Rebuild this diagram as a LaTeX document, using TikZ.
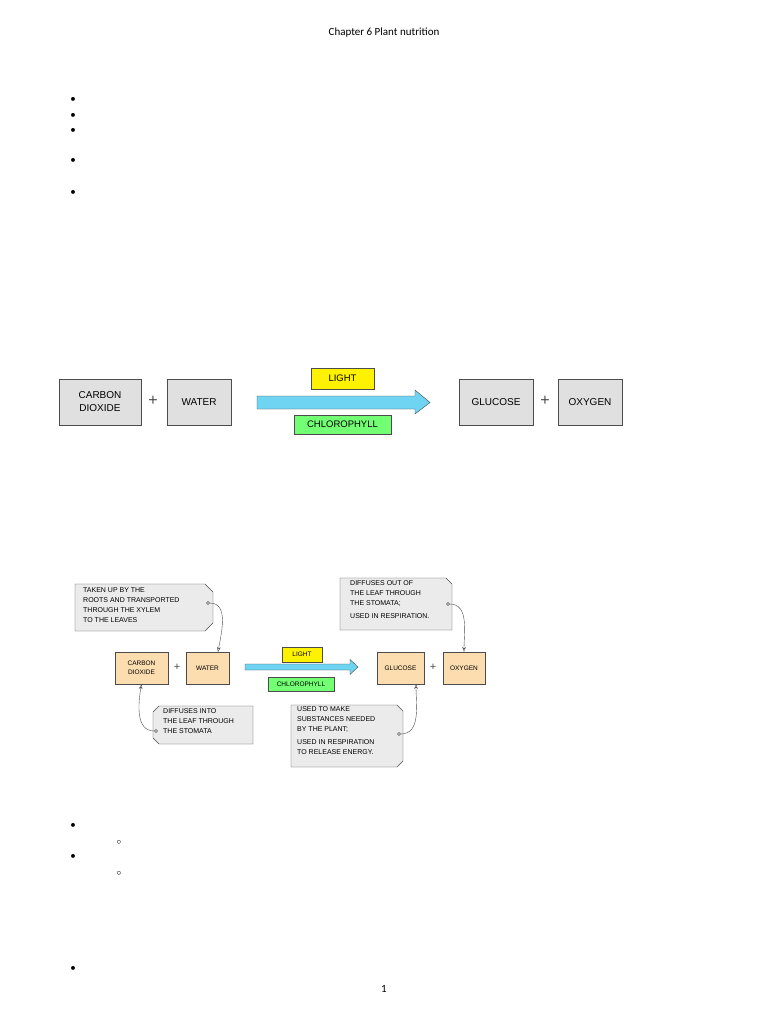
\documentclass[tikz,border=0pt]{standalone}
\usepackage{fontspec}
\setmainfont{Carlito}
\newfontfamily\dfont{Liberation Sans}
\usetikzlibrary{arrows.meta}
\definecolor{orbox}{HTML}{FCDDB0}
\definecolor{arc}{HTML}{6FD3F2}
\begin{document}
\begin{tikzpicture}[x=1pt,y=-1pt,
 gbox/.style={draw=black!70,fill=black!12,inner sep=0pt,font=\dfont\fontsize{10}{13}\selectfont,align=center},
 obox/.style={draw=black!70,fill=orbox,inner sep=0pt,font=\dfont\fontsize{6.5}{8.5}\selectfont,align=center},
 ctext/.style={font=\dfont\fontsize{7}{10}\selectfont,align=left,anchor=north west,inner sep=0pt},
 callout/.style={draw=black!70,fill=black!8},
 plus/.style={font=\dfont\fontsize{16}{16}\selectfont,text=black!70},
 plusb/.style={font=\dfont\fontsize{11}{11}\selectfont,text=black!70},
 bul/.style={font=\fontsize{11}{11}\selectfont},
 lnk/.style={-{Stealth[length=5pt,open]},black!70,thin},
 dotc/.style={circle,draw=black!70,fill=white,inner sep=0pt,minimum size=3pt}]
\useasboundingbox (0,0) rectangle (768,1024);
\fill[white] (0,0) rectangle (768,1024);
\node[font=\fontsize{11}{13}\selectfont] (hd) at (384,33) {Chapter 6 Plant nutrition};
\node[font=\fontsize{11}{13}\selectfont] (pg) at (384,989) {1};
\foreach \y [count=\i] in {100,116,131,161,193,826,857,969}
  \node[bul] (b\i) at (73,\y) {\textbullet};
\foreach \y [count=\i] in {842,873}
  \node[font=\fontsize{9}{9}\selectfont] (c\i) at (119,\y) {$\circ$};
% diagram 1
\node[gbox,minimum width=82pt,minimum height=46pt] (co) at (100,402) {CARBON\\DIOXIDE};
\node[plus] (p1) at (153,401) {+};
\node[gbox,minimum width=64pt,minimum height=46pt] (wa) at (199,402) {WATER};
\draw[draw=black!70,fill=arc] (257,396) -- (415,396) -- (415,390) -- (430,402.5) -- (415,414) -- (415,409) -- (257,409) -- cycle;
\node[draw=black!70,fill=yellow,minimum width=63pt,minimum height=21pt,inner sep=0pt,font=\dfont\fontsize{9.5}{12}\selectfont] (li) at (342.5,378.5) {LIGHT};
\node[draw=black!70,fill=green!55,minimum width=97pt,minimum height=19pt,inner sep=0pt,font=\dfont\fontsize{9.5}{12}\selectfont] (ch) at (342.5,424.5) {CHLOROPHYLL};
\node[gbox,minimum width=74pt,minimum height=46pt] (gl) at (496,402) {GLUCOSE};
\node[plus] (p2) at (545,401) {+};
\node[gbox,minimum width=64pt,minimum height=46pt] (ox) at (590,402) {OXYGEN};
% diagram 2
\node[obox,minimum width=53pt,minimum height=32pt] (co2) at (141.5,668) {CARBON\\DIOXIDE};
\node[plusb] (q1) at (177,667) {+};
\node[obox,minimum width=43pt,minimum height=32pt] (wa2) at (207.5,668) {WATER};
\draw[draw=black!70,fill=arc] (245,664) -- (350,664) -- (350,659.5) -- (358,667) -- (350,674.5) -- (350,670) -- (245,670) -- cycle;
\node[draw=black!70,fill=yellow,minimum width=40pt,minimum height=15pt,inner sep=0pt,font=\dfont\fontsize{6.5}{8}\selectfont] (li2) at (302,654.5) {LIGHT};
\node[draw=black!70,fill=green!55,minimum width=66pt,minimum height=14pt,inner sep=0pt,font=\dfont\fontsize{6.5}{8}\selectfont] (ch2) at (301,684) {CHLOROPHYLL};
\node[obox,minimum width=47pt,minimum height=32pt] (gl2) at (400.5,668) {GLUCOSE};
\node[plusb] (q2) at (433,667) {+};
\node[obox,minimum width=42pt,minimum height=32pt] (ox2) at (464,668) {OXYGEN};
\coordinate (wtop) at (218,652);
\coordinate (gbot) at (416,684);
% callouts
\draw[callout] (75,584) -- (205,584) -- (213,592) -- (213,623) -- (205,631) -- (75,631) -- cycle;
\node[ctext] (t1) at (83,587) {TAKEN UP BY THE\\ROOTS AND TRANSPORTED\\THROUGH THE XYLEM\\TO THE LEAVES};
\node[dotc] (d1) at (208,603) {};
\draw[lnk] (d1) to[out=0,in=80] (wtop);
\draw[callout] (340,578) -- (446,578) -- (452,584) -- (452,630) -- (340,630) -- cycle;
\node[ctext] (t2) at (350,580) {DIFFUSES OUT OF\\THE LEAF THROUGH\\THE STOMATA;\\[3pt]USED IN RESPIRATION.};
\node[dotc] (d2) at (448,604) {};
\draw[lnk] (d2) to[out=0,in=90] (ox2.north);
\draw[callout] (159,706) -- (253,706) -- (253,744) -- (159,744) -- (153,738) -- (153,712) -- cycle;
\node[ctext] (t3) at (163,708) {DIFFUSES INTO\\THE LEAF THROUGH\\THE STOMATA};
\node[dotc] (d3) at (156,731) {};
\draw[lnk] (d3) to[out=180,in=-100] (co2.south);
\draw[callout] (291,705) -- (397,705) -- (403,711) -- (403,761) -- (397,767) -- (291,767) -- cycle;
\node[ctext] (t4) at (297,706) {USED TO MAKE\\SUBSTANCES NEEDED\\BY THE PLANT;\\[3pt]USED IN RESPIRATION\\TO RELEASE ENERGY.};
\node[dotc] (d4) at (399,734) {};
\draw[lnk] (d4) to[out=0,in=-90] (gbot);
\end{tikzpicture}
\end{document}
